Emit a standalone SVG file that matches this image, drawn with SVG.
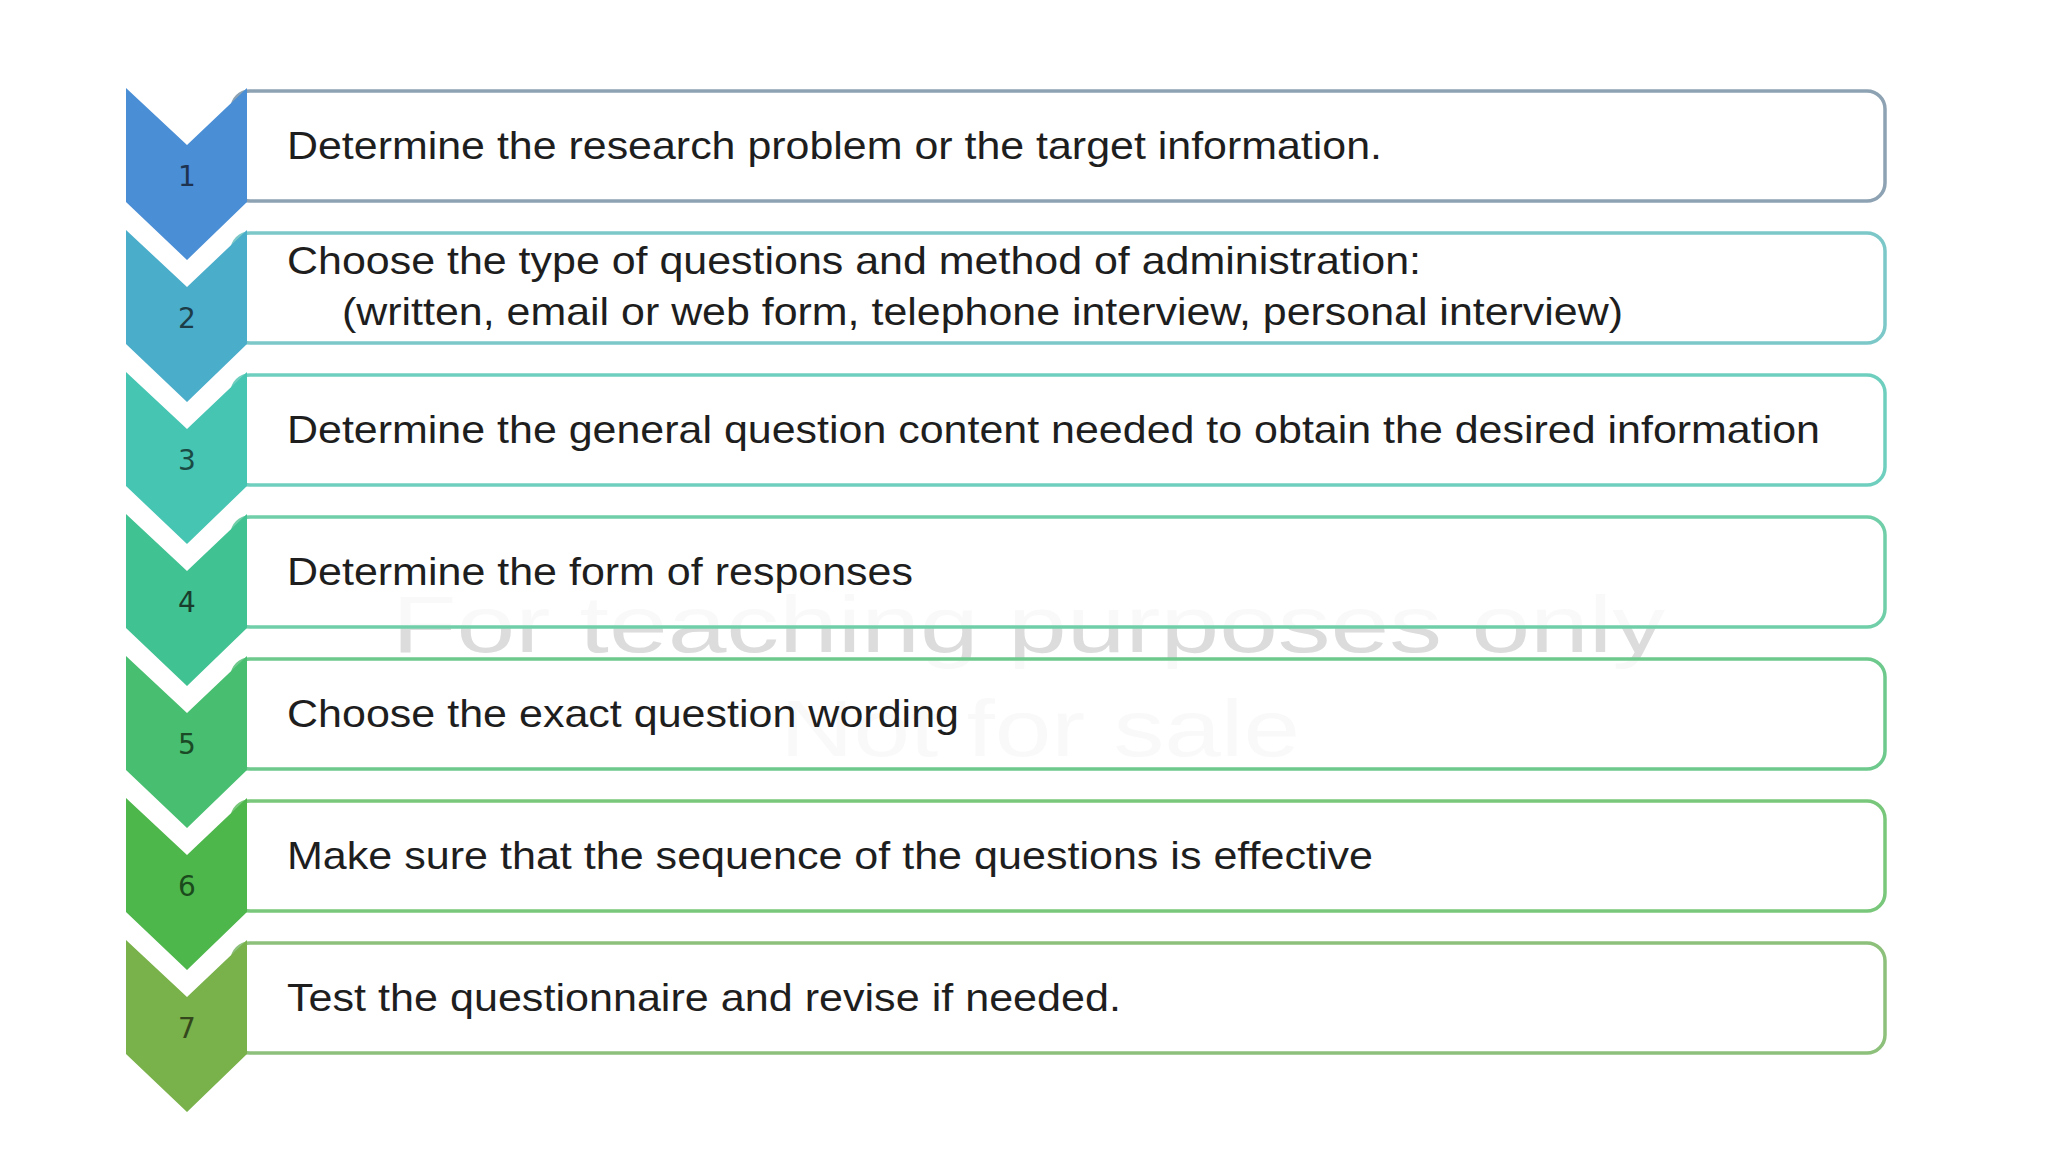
<svg xmlns="http://www.w3.org/2000/svg" width="2048" height="1152" viewBox="0 0 2048 1152">
  <style>
    .box { fill: #ffffff; fill-opacity: 0.82; stroke-width: 3.5; }
    .lbl { font-family: "Liberation Sans", Arial, sans-serif; font-size: 39px; fill: #1e1e1e; }
    .num { font-family: "DejaVu Sans", sans-serif; font-size: 28px; text-anchor: middle; }
    .wm { font-family: "Liberation Sans", Arial, sans-serif; font-size: 80px; fill: #dcdcdc; }
  </style>
  <defs>
    <path id="chev" d="M0,0 L61,57 L121,0 L121,114 L61,172 L0,114 Z"/>
  </defs>
  <rect x="0" y="0" width="2048" height="1152" fill="#ffffff"/>

  <g id="watermark">
    <text class="wm" x="392" y="652" textLength="1273" lengthAdjust="spacingAndGlyphs">For teaching purposes only</text>
    <text class="wm" x="780" y="756" textLength="520" lengthAdjust="spacingAndGlyphs">Not for sale</text>
  </g>

  <g id="connectors"></g>

  <g id="step1">
    <rect class="box" x="232" y="91" width="1653" height="110" rx="18" stroke="#8da2b2"/>
    <use href="#chev" x="126" y="88" fill="#4a8ed6"/>
    <text class="num" x="187" y="186" fill="#1d3350">1</text>
    <text class="lbl" x="287" y="159" textLength="1095" lengthAdjust="spacingAndGlyphs">Determine the research problem or the target information.</text>
  </g>

  <g id="step2">
    <rect class="box" x="232" y="233" width="1653" height="110" rx="18" stroke="#7cc8c8"/>
    <use href="#chev" x="126" y="230" fill="#4aadca"/>
    <text class="num" x="187" y="328" fill="#1c3c48">2</text>
    <text class="lbl" x="287" y="274" textLength="1134" lengthAdjust="spacingAndGlyphs">Choose the type of questions and method of administration:</text>
    <text class="lbl" x="342" y="325" textLength="1281" lengthAdjust="spacingAndGlyphs">(written, email or web form, telephone interview, personal interview)</text>
  </g>

  <g id="step3">
    <rect class="box" x="232" y="375" width="1653" height="110" rx="18" stroke="#6fcfbf"/>
    <use href="#chev" x="126" y="372" fill="#46c5b3"/>
    <text class="num" x="187" y="470" fill="#1a4a44">3</text>
    <text class="lbl" x="287" y="443" textLength="1533" lengthAdjust="spacingAndGlyphs">Determine the general question content needed to obtain the desired information</text>
  </g>

  <g id="step4">
    <rect class="box" x="232" y="517" width="1653" height="110" rx="18" stroke="#70cfa8"/>
    <use href="#chev" x="126" y="514" fill="#40c292"/>
    <text class="num" x="187" y="612" fill="#193d2c">4</text>
    <text class="lbl" x="287" y="585" textLength="626" lengthAdjust="spacingAndGlyphs">Determine the form of responses</text>
  </g>

  <g id="step5">
    <rect class="box" x="232" y="659" width="1653" height="110" rx="18" stroke="#6dc98c"/>
    <use href="#chev" x="126" y="656" fill="#48bf70"/>
    <text class="num" x="187" y="754" fill="#1a4a26">5</text>
    <text class="lbl" x="287" y="727" textLength="672" lengthAdjust="spacingAndGlyphs">Choose the exact question wording</text>
  </g>

  <g id="step6">
    <rect class="box" x="232" y="801" width="1653" height="110" rx="18" stroke="#79c77a"/>
    <use href="#chev" x="126" y="798" fill="#4db74c"/>
    <text class="num" x="187" y="896" fill="#1b4a1c">6</text>
    <text class="lbl" x="287" y="869" textLength="1086" lengthAdjust="spacingAndGlyphs">Make sure that the sequence of the questions is effective</text>
  </g>

  <g id="step7">
    <rect class="box" x="232" y="943" width="1653" height="110" rx="18" stroke="#8dc07a"/>
    <use href="#chev" x="126" y="940" fill="#79b14a"/>
    <text class="num" x="187" y="1038" fill="#34461c">7</text>
    <text class="lbl" x="287" y="1011" textLength="834" lengthAdjust="spacingAndGlyphs">Test the questionnaire and revise if needed.</text>
  </g>
</svg>
